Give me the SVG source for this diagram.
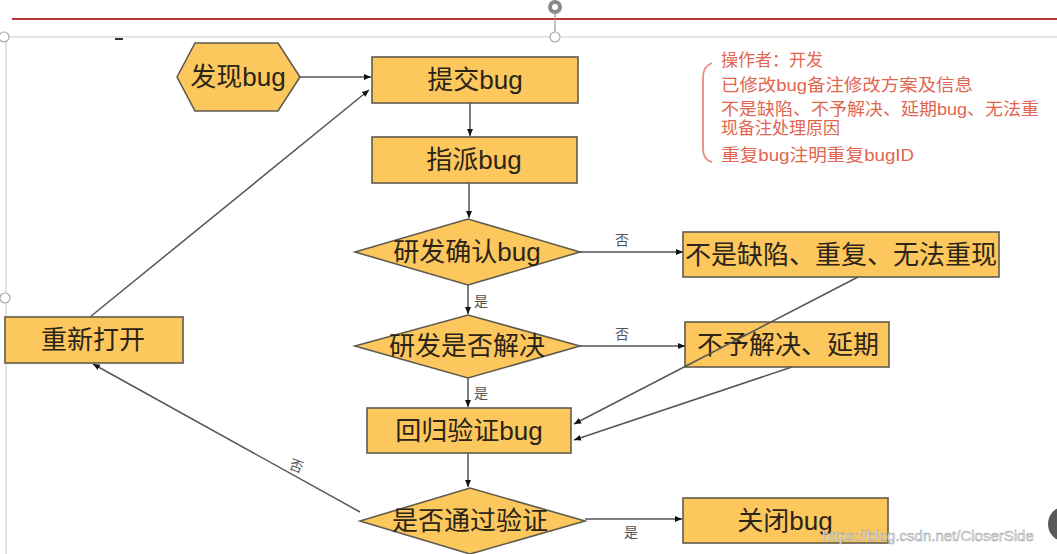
<svg xmlns="http://www.w3.org/2000/svg" width="1057" height="554" viewBox="0 0 1057 554">
<style>
.box{fill:#FCC75C;stroke:#5f5a4e;stroke-width:1.6}
.t{font-family:"Liberation Sans","Noto Sans CJK SC",sans-serif;font-size:26px;fill:#2b2418;text-anchor:middle;dominant-baseline:central}
.c{stroke:#555;stroke-width:1.5;fill:none;marker-end:url(#ah)}
.lb{font-family:"Noto Sans CJK SC",sans-serif;font-size:14px;fill:#555;text-anchor:middle;dominant-baseline:central}
.red{font-family:"Liberation Sans","Noto Sans CJK SC",sans-serif;font-size:17px;fill:#e2654f}
</style>
<defs>
<marker id="ah" markerWidth="8" markerHeight="8" refX="7" refY="4" orient="auto" markerUnits="userSpaceOnUse">
<path d="M0,1 L7,4 L0,7 Z" fill="#111"/>
</marker>
</defs>
<rect width="1057" height="554" fill="#fff"/>
<g id="chrome">
<line x1="12" y1="19" x2="1057" y2="19" stroke="#b8353a" stroke-width="2.2"/>
<line x1="0" y1="37" x2="1057" y2="37" stroke="#dcdcdc" stroke-width="1.5"/>
<line x1="6" y1="37" x2="6" y2="554" stroke="#dcdcdc" stroke-width="1.5"/>
<line x1="555" y1="12" x2="555" y2="32" stroke="#999" stroke-width="1.2"/>
<circle cx="555" cy="7" r="7" fill="#8a8a8a"/>
<circle cx="555" cy="7" r="3" fill="#fff"/>
<circle cx="4" cy="37" r="5" fill="#fff" stroke="#aaa" stroke-width="1.2"/>
<circle cx="555" cy="37" r="5" fill="#fff" stroke="#aaa" stroke-width="1.2"/>
<circle cx="5" cy="298" r="5" fill="#fff" stroke="#aaa" stroke-width="1.2"/>
<line x1="115" y1="39" x2="123" y2="39" stroke="#333" stroke-width="2"/>
<circle cx="1066" cy="524" r="18" fill="#5a5a5a"/>
</g>
<g id="n-find"><polygon class="box" points="177,77 195,43 278,43 300,77 278,111 195,111"/><text class="t" x="238" y="77">发现bug</text></g>
<g id="n-submit"><rect class="box" x="372" y="57" width="206" height="46"/><text class="t" x="475" y="80">提交bug</text></g>
<g id="n-assign"><rect class="box" x="372" y="137" width="205" height="46"/><text class="t" x="474" y="160">指派bug</text></g>
<g id="n-confirm"><polygon class="box" points="355,252 468,219 580,252 468,285"/><text class="t" x="467" y="252">研发确认bug</text></g>
<g id="n-notbug"><rect class="box" x="683" y="232" width="316" height="45"/><text class="t" x="841" y="255" textLength="312" lengthAdjust="spacingAndGlyphs">不是缺陷、重复、无法重现</text></g>
<g id="n-solve"><polygon class="box" points="355,346 468,315 580,346 468,378"/><text class="t" x="467" y="346">研发是否解决</text></g>
<g id="n-defer"><rect class="box" x="685" y="322" width="204" height="45"/><text class="t" x="788" y="345">不予解决、延期</text></g>
<g id="n-verify"><rect class="box" x="367" y="408" width="204" height="45"/><text class="t" x="469" y="431">回归验证bug</text></g>
<g id="n-pass"><polygon class="box" points="360,521 470,488 585,521 470,554"/><text class="t" x="470" y="521">是否通过验证</text></g>
<g id="n-close"><rect class="box" x="683" y="498" width="205" height="45"/><text class="t" x="785" y="521">关闭bug</text></g>
<g id="n-reopen"><rect class="box" x="5" y="317" width="178" height="46"/><text class="t" x="93" y="340">重新打开</text></g>
<g id="connectors">
<line class="c" x1="300" y1="77" x2="371" y2="77"/>
<line class="c" x1="470" y1="103" x2="470" y2="136"/>
<line class="c" x1="469" y1="183" x2="469" y2="218"/>
<line class="c" x1="468" y1="285" x2="468" y2="314"/>
<line class="c" x1="580" y1="252" x2="683" y2="252"/>
<line class="c" x1="580" y1="346" x2="685" y2="346"/>
<line class="c" x1="468" y1="378" x2="468" y2="407"/>
<line class="c" x1="858" y1="277" x2="574" y2="424"/>
<line class="c" x1="792" y1="367" x2="574" y2="440"/>
<line class="c" x1="468" y1="453" x2="468" y2="487"/>
<line class="c" x1="360" y1="512" x2="93" y2="364"/>
<line class="c" x1="90" y1="317" x2="369" y2="90"/>
<line class="c" x1="585" y1="519" x2="682" y2="519"/>
<text class="lb" x="622" y="239">否</text>
<text class="lb" x="622" y="333">否</text>
<text class="lb" x="481" y="300">是</text>
<text class="lb" x="481" y="392">是</text>
<text class="lb" x="297" y="465" transform="rotate(20 297 465)">否</text>
<text class="lb" x="631" y="531">是</text>
</g>
<g id="note">
<path d="M712,63 Q703,66 703,78 L703,148 Q703,160 712,162" fill="none" stroke="#e88a78" stroke-width="1.8"/>
<text class="red" x="721" y="66">操作者：开发</text>
<text class="red" x="721" y="91" textLength="252" lengthAdjust="spacingAndGlyphs">已修改bug备注修改方案及信息</text>
<text class="red" x="721" y="115" textLength="318" lengthAdjust="spacingAndGlyphs">不是缺陷、不予解决、延期bug、无法重</text>
<text class="red" x="721" y="134">现备注处理原因</text>
<text class="red" x="721" y="161" textLength="193" lengthAdjust="spacingAndGlyphs">重复bug注明重复bugID</text>
</g>
<text x="822" y="541" font-family="Liberation Sans, sans-serif" font-size="15" fill="#f4f4f4" stroke="#9a9a9a" stroke-width="0.5">https://blog.csdn.net/CloserSide</text>
</svg>
